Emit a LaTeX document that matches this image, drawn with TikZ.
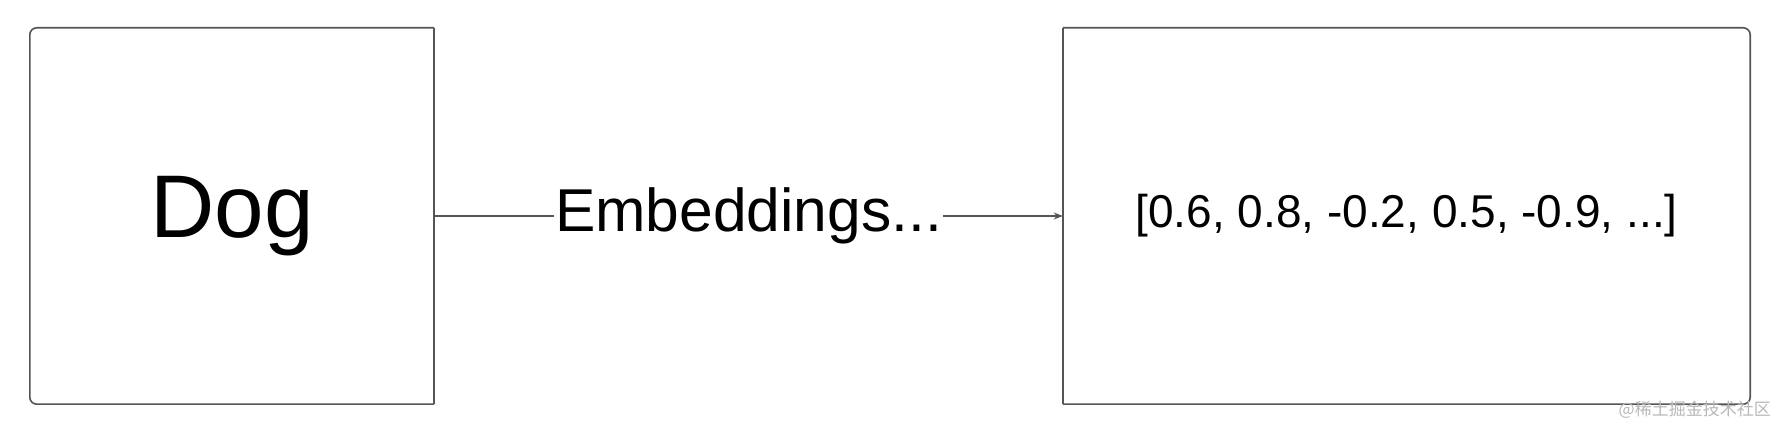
\documentclass[tikz,border=0pt]{standalone}
\usepackage{fontspec}
\setmainfont{Liberation Sans}
\newfontfamily\cjkfont{Noto Sans CJK SC}
\usetikzlibrary{arrows.meta}
\definecolor{edgegray}{HTML}{555555}
\definecolor{wmgray}{HTML}{B8B8B8}
\tikzset{
  boxnode/.style={draw=none, inner sep=0pt, minimum width=#1, minimum height=376pt},
  boxline/.style={draw=edgegray, line width=1.6pt},
  conn/.style={draw=edgegray, line width=1.4pt, -{Stealth[length=9pt,width=7pt]}},
  lbl/.style={fill=white, inner sep=1pt, font=\fontsize{60.5}{60.5}\selectfont}
}
\begin{document}
\begin{tikzpicture}[x=1pt,y=1pt]
\useasboundingbox[fill=white] (0,0) rectangle (1773,425);
% left box
\node[boxnode=404pt] (L) at (232,209) {\fontsize{89}{89}\selectfont Dog};
\draw[boxline, rounded corners=7pt] (L.north east) -- (L.north west) -- (L.south west) -- (L.south east);
\draw[boxline] (L.north east) -- (L.south east);
% right box
\node[boxnode=687pt] (R) at (1406.5,209) {\fontsize{46}{46}\selectfont [0.6, 0.8, -0.2, 0.5, -0.9, ...]};
\draw[boxline, rounded corners=7pt] (R.north west) -- (R.north east) -- (R.south east) -- (R.south west);
\draw[boxline] (R.north west) -- (R.south west);
% connector
\draw[conn] (L.east) -- node[lbl, midway] (E) {Embeddings...} (R.west);
% watermark
\node[anchor=south east, inner sep=0pt, text=wmgray, font=\cjkfont\fontsize{17}{17}\selectfont] (W) at (1771,6) {@稀土掘金技术社区};
\end{tikzpicture}
\end{document}
